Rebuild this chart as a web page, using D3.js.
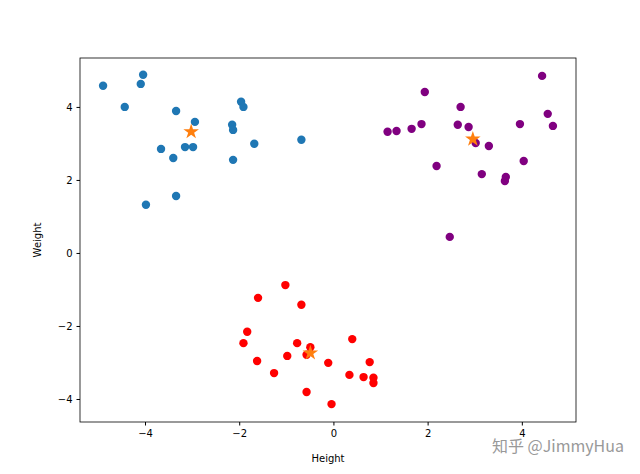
<!DOCTYPE html><html><head><meta charset="utf-8"><script src="https://cdn.jsdelivr.net/npm/d3@7"></script>
<style>body{margin:0;background:#fff}text{font-family:"DejaVu Sans",sans-serif}</style></head><body><svg id="c" width="640" height="474"></svg><script>
const blueX=[-4.89,-4.04,-4.09,-4.43,-3.34,-2.94,-3.66,-3.15,-2.98,-3.40,-3.98,-3.34,-1.96,-1.91,-2.15,-2.13,-2.13,-1.68,-0.68];
const blueY=[4.58,4.88,4.63,4.0,3.89,3.59,2.85,2.90,2.90,2.60,1.32,1.56,4.14,4.0,3.51,3.37,2.55,2.99,3.10];
const purpX=[4.43,1.94,2.70,4.55,1.15,1.34,1.66,1.87,2.64,2.87,4.66,3.96,3.02,3.30,2.19,3.15,3.66,3.64,4.04,2.47];
const purpY=[4.85,4.41,4.0,3.81,3.32,3.34,3.40,3.53,3.51,3.45,3.48,3.53,3.01,2.93,2.38,2.16,2.08,1.97,2.52,0.44];
const redX=[-1.02,-1.60,-0.68,-1.83,-1.91,-0.77,0.40,-0.49,-0.57,-0.98,-1.62,-0.11,0.77,-1.26,0.34,0.64,0.85,0.85,-0.57,-0.04];
const redY=[-0.88,-1.23,-1.42,-2.16,-2.47,-2.47,-2.36,-2.58,-2.79,-2.82,-2.96,-3.01,-2.99,-3.29,-3.34,-3.40,-3.42,-3.56,-3.81,-4.14];
const centX=[-3.02,2.96,-0.49], centY=[3.32,3.12,-2.74];
const xTicks=[-4,-2,0,2,4], yTicks=[-4,-2,0,2,4];
const svg=d3.select("#c");
const L=80,R=576,T=58,B=422;
const x=d3.scaleLinear().domain([-5.38,5.15]).range([L,R]);
const y=d3.scaleLinear().domain([-4.63,5.34]).range([B,T]);
const g=svg.append("g");
function pts(xs,ys,c){g.selectAll(null).data(xs).enter().append("circle").attr("cx",(d)=>x(d)).attr("cy",(d,i)=>y(ys[i])).attr("r",4.2).attr("fill",c);}
pts(blueX,blueY,"#1f77b4");pts(purpX,purpY,"#800080");pts(redX,redY,"#ff0000");
const star=d3.symbol().type(d3.symbolStar).size(75);
g.selectAll(null).data(centX).enter().append("path").attr("d",star).attr("fill","#ff7f0e")
 .attr("transform",(d,i)=>`translate(${x(d)},${y(centY[i])})`);
const ax=svg.append("g").attr("transform",`translate(0,${B})`).call(d3.axisBottom(x).tickValues(xTicks).tickSizeOuter(0).tickSize(3.5).tickPadding(4));
const ay=svg.append("g").attr("transform",`translate(${L},0)`).call(d3.axisLeft(y).tickValues(yTicks).tickSizeOuter(0).tickSize(3.5).tickPadding(4));
[ax,ay].forEach(a=>{a.select(".domain").remove();a.selectAll("text").attr("font-size",10).attr("fill","#000").style("font-family","DejaVu Sans");a.selectAll("line").attr("stroke","#000");});
svg.append("rect").attr("x",L).attr("y",T).attr("width",R-L).attr("height",B-T).attr("fill","none").attr("stroke","#000").attr("stroke-width",0.8);
svg.append("text").attr("x",(L+R)/2).attr("y",462).attr("text-anchor","middle").attr("font-size",10).text("Height");
svg.append("text").attr("transform",`translate(41,${(T+B)/2}) rotate(-90)`).attr("text-anchor","middle").attr("font-size",10).text("Weight");
svg.append("text").attr("x",624).attr("y",452).attr("text-anchor","end").attr("font-size",16).attr("fill","#999").attr("stroke","#fff").attr("stroke-width",2).attr("paint-order","stroke").style("font-family","Noto Sans CJK SC").text("知乎 @JimmyHua");
</script></body></html>
